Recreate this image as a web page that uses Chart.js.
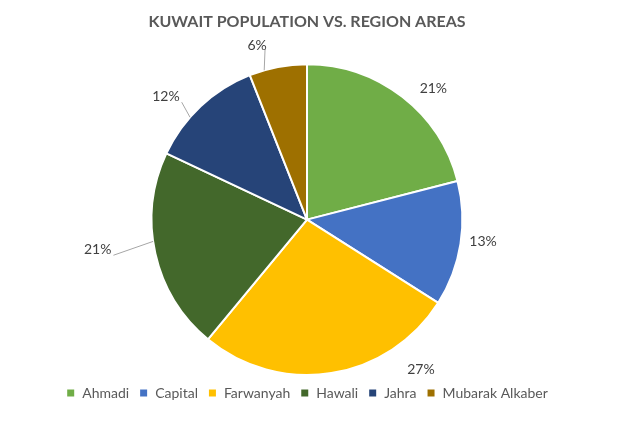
<!DOCTYPE html>
<html><head><meta charset="utf-8">
<script src="https://cdn.jsdelivr.net/npm/chart.js@4"></script>
<style>html,body{margin:0;padding:0;background:#fff}#w{width:634px;height:424px}</style>
</head><body><div id="w"><canvas id="c"></canvas></div>
<script>
const categories = ["Ahmadi","Capital","Farwanyah","Hawali","Jahra","Mubarak Alkaber"];
const values = [21,13,27,21,12,6];
const labelsText = ["21%","13%","27%","21%","12%","6%"];
const colors = ["#70ad47","#4472c4","#ffc000","#43682b","#264478","#9e7000"];
const labelDist = [27,22,33,56,32,26];
const labelFrac = [0.58,0.46,0.21,0.56,0.37,0.26];
const leader = [false,false,false,true,true,true];

const labelPlugin = {
  id:'lbl',
  afterDatasetsDraw(chart){
    const ctx = chart.ctx;
    const meta = chart.getDatasetMeta(0);
    ctx.save();
    ctx.font = '14px Lato, "Open Sans", sans-serif';
    ctx.fillStyle = '#404040';
    ctx.strokeStyle = '#a6a6a6';
    ctx.lineWidth = 1;
    ctx.textBaseline = 'middle';
    ctx.textAlign = 'center';
    meta.data.forEach((arc,i)=>{
      const a = arc.startAngle + (arc.endAngle-arc.startAngle)*labelFrac[i];
      const r = arc.outerRadius;
      const rl = r + labelDist[i];
      const lx = arc.x + Math.cos(a)*rl, ly = arc.y + Math.sin(a)*rl;
      const t = labelsText[i];
      const w = ctx.measureText(t).width;
      if (leader[i]) {
        const ex = arc.x + Math.cos(a)*r, ey = arc.y + Math.sin(a)*r;
        let tx, ty;
        if (Math.cos(a) < -0.7) { tx = lx + w/2 + 2; ty = ly + 6; }
        else if (Math.sin(a) < -0.9) { tx = lx + 8; ty = ly + 4; }
        else { tx = lx + w/2 + 2; ty = ly + 3; }
        ctx.beginPath(); ctx.moveTo(ex,ey); ctx.lineTo(tx,ty); ctx.stroke();
      }
      ctx.fillText(t, lx, ly);
    });
    ctx.restore();
  }
};

new Chart(document.getElementById('c'), {
  type:'pie',
  data:{labels:categories, datasets:[{data:values, backgroundColor:colors, borderColor:'#ffffff', borderWidth:2}]},
  options:{
    responsive:true, maintainAspectRatio:false, animation:false,
    layout:{padding:{top:0,bottom:14,left:0,right:20}},
    plugins:{
      title:{display:true,text:'KUWAIT POPULATION VS. REGION AREAS',color:'#595959',
        font:{family:'Lato, "Open Sans", sans-serif',size:16,weight:'bold'},padding:{top:12,bottom:32}},
      legend:{position:'bottom',labels:{color:'#595959',boxWidth:9,boxHeight:9,padding:10,
        font:{family:'Lato, "Open Sans", sans-serif',size:14}}},
      tooltip:{enabled:false}
    }
  },
  plugins:[labelPlugin]
});
</script></body></html>
